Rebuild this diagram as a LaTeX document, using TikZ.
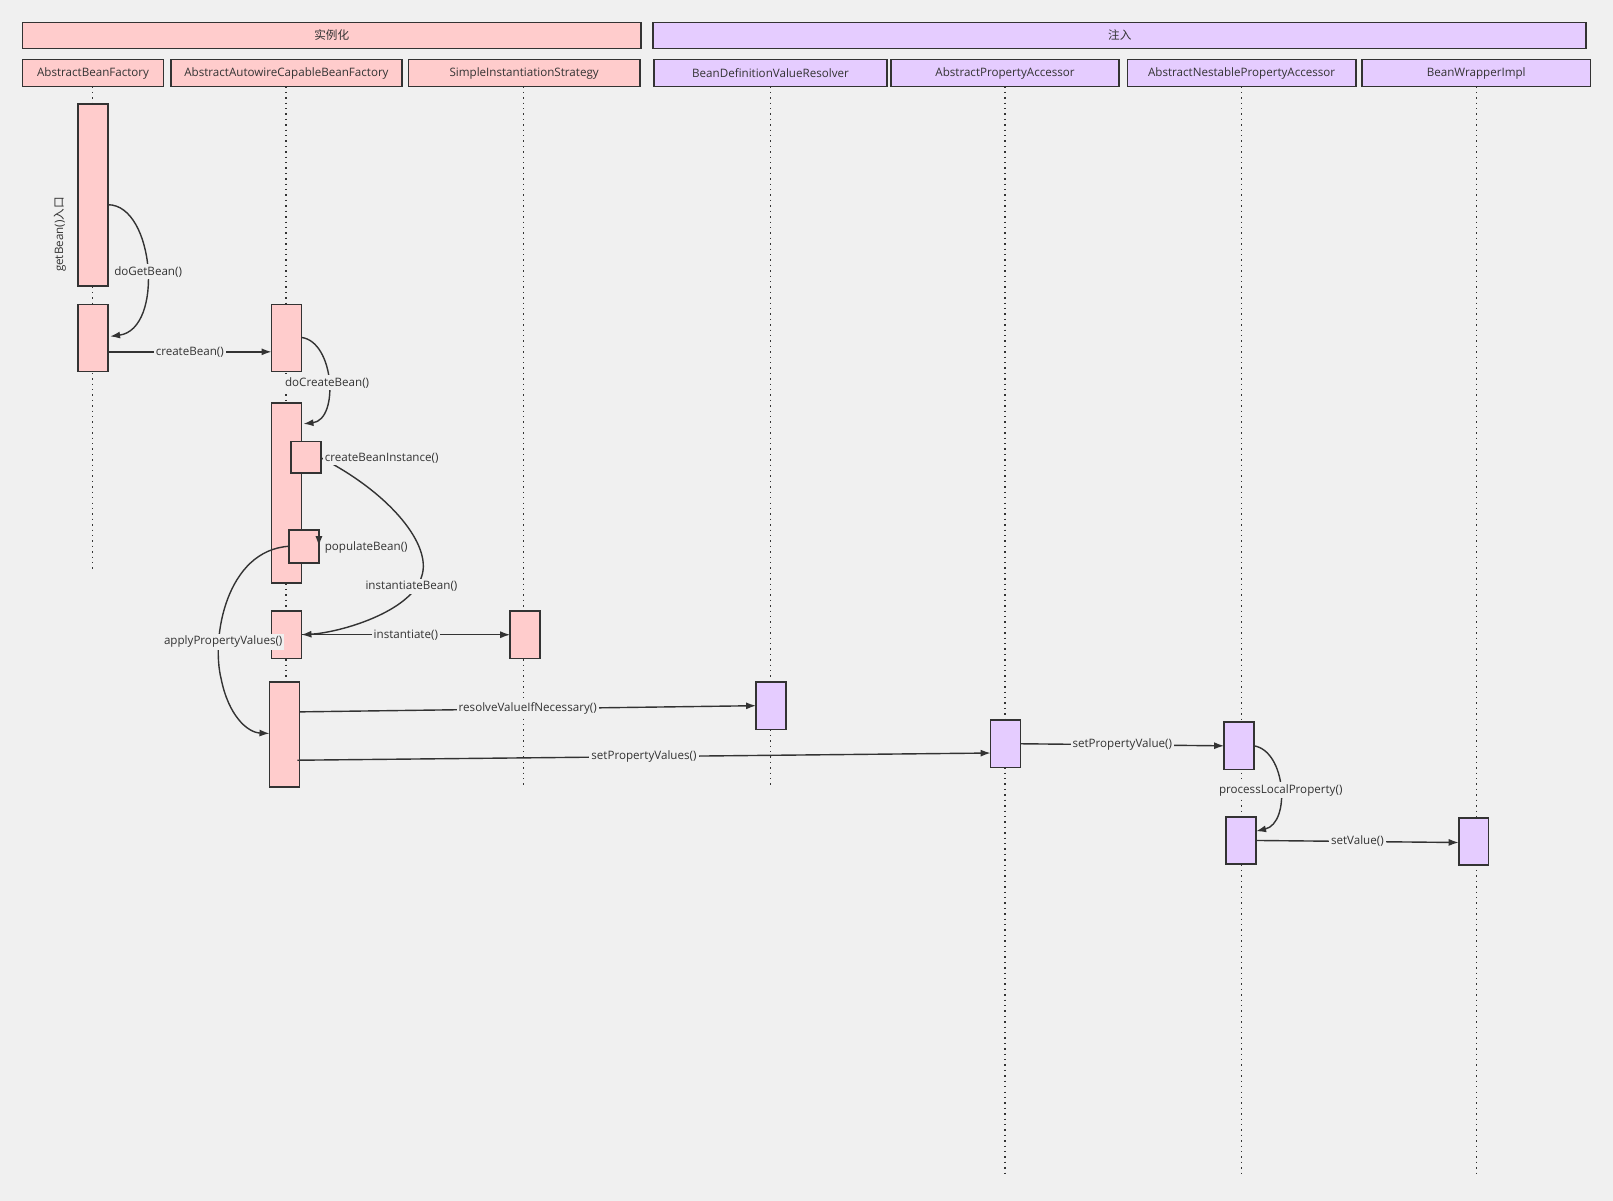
\documentclass[tikz,border=0pt]{standalone}
\usepackage{fontspec}
\setmainfont{Open Sans}
\newfontfamily\cjk{Noto Sans CJK SC}
\usetikzlibrary{arrows.meta}
\definecolor{pk}{HTML}{FFCCCC}
\definecolor{pu}{HTML}{E5CCFF}
\definecolor{bg}{HTML}{F0F0F0}
\definecolor{ln}{HTML}{333333}
\begin{document}
\begin{tikzpicture}[x=0.514pt,y=-0.514pt,
  txt/.style={font=\fontsize{5.8}{7}\selectfont,text=ln,inner sep=1pt},
  lbl/.style={txt,fill=bg},
  bx/.style={draw=ln,line width=0.8pt},
  life/.style={draw=ln,line width=0.7pt,dotted},
  msg/.style={draw=ln,line width=0.7pt,-{Latex[length=5pt,width=3.5pt]}}]
\useasboundingbox[fill=bg] (0,0) rectangle (1568,1167);
% headers
\draw[bx,fill=pk] (22,22) rectangle (623,47) node[txt,midway]{\cjk 实例化};
\draw[bx,fill=pu] (635,22) rectangle (1542,47) node[txt,midway]{\cjk 注入};
% lifelines
\draw[life] (90,84)--(90,555);
\draw[life] (278,84)--(278,765);
\draw[life] (509,84)--(509,765);
\draw[life] (749,84)--(749,765);
\draw[life] (977,84)--(977,1145);
\draw[life] (1207,84)--(1207,1145);
\draw[life] (1435,84)--(1435,1145);
\draw[bx,fill=pk] (22,58) rectangle (159,84) node[txt,midway](h1){AbstractBeanFactory};
\draw[bx,fill=pk] (166,58) rectangle (391,84) node[txt,midway](h2){AbstractAutowireCapableBeanFactory};
\draw[bx,fill=pk] (397,58) rectangle (622,84) node[txt,midway](h3){SimpleInstantiationStrategy};
\draw[bx,fill=pu] (636,58) rectangle (862,84) node[txt,midway](h4){BeanDefinitionValueResolver};
\draw[bx,fill=pu] (866,58) rectangle (1088,84) node[txt,midway](h5){AbstractPropertyAccessor};
\draw[bx,fill=pu] (1096,58) rectangle (1318,84) node[txt,midway](h6){AbstractNestablePropertyAccessor};
\draw[bx,fill=pu] (1324,58) rectangle (1546,84) node[txt,midway](h7){BeanWrapperImpl};
% activations
\draw[bx,fill=pk] (76,101) rectangle (105,278);
\draw[bx,fill=pk] (76,296) rectangle (105,361);
\draw[bx,fill=pk] (264,296) rectangle (293,361);
\draw[bx,fill=pk] (264,392) rectangle (293,567);
\draw[bx,fill=pk] (283,429) rectangle (312,460);
\draw[bx,fill=pk] (281,515) rectangle (310,547);
\draw[bx,fill=pk] (264,594) rectangle (293,640);
\draw[bx,fill=pk] (262,663) rectangle (291,765);
\draw[bx,fill=pk] (496,594) rectangle (525,640);
\draw[bx,fill=pu] (735,663) rectangle (764,709);
\draw[bx,fill=pu] (963,700) rectangle (992,746);
\draw[bx,fill=pu] (1190,702) rectangle (1219,748);
\draw[bx,fill=pu] (1192,794) rectangle (1221,840);
\draw[bx,fill=pu] (1418,795) rectangle (1447,841);
\node[txt,rotate=90] at (58,228) {getBean()\cjk 入口};
% messages
\coordinate (a1)  at (105,199); \coordinate (a2) at (107,327);
\draw[msg] (a1) .. controls (150,199) and (160,320) .. (a2);
\node[lbl] at (144,264) {doGetBean()};
\coordinate (c1) at (105,342); \coordinate (c2) at (264,342);
\draw[msg] (c1) -- node[lbl]{createBean()} (c2);
\coordinate (d1) at (293,328); \coordinate (d2) at (295,412);
\draw[msg] (d1) .. controls (325,332) and (330,408) .. (d2);
\node[lbl] at (318,372) {doCreateBean()};
\coordinate (e1) at (312,445); \coordinate (e2) at (293,617);
\draw[msg] (e1) .. controls (380,480) and (420,530) .. (410,560) .. controls (400,595) and (330,615) .. (e2);
\node[lbl] at (371,445) {createBeanInstance()};
\node[lbl] at (400,570) {instantiateBean()};
\draw[msg] (310,521) -- (310,531);
\node[lbl] at (356,532) {populateBean()};
\coordinate (f1) at (281,531); \coordinate (f2) at (262,713);
\draw[msg] (f1) .. controls (220,535) and (205,620) .. (215,660) .. controls (222,695) and (240,712) .. (f2);
\node[lbl] at (217,624) {applyPropertyValues()};
\coordinate (g1) at (293,617); \coordinate (g2) at (496,617);
\draw[msg] (g1) -- node[lbl]{instantiate()} (g2);
\coordinate (r1) at (291,692); \coordinate (r2) at (735,686);
\draw[msg] (r1) -- node[lbl]{resolveValueIfNecessary()} (r2);
\coordinate (s1) at (289,739); \coordinate (s2) at (963,732);
\draw[msg] (s1) -- node[lbl,pos=0.5]{setPropertyValues()} (s2);
\coordinate (t1) at (992,723); \coordinate (t2) at (1190,725);
\draw[msg] (t1) -- node[lbl]{setPropertyValue()} (t2);
\coordinate (u1) at (1219,725); \coordinate (u2) at (1221,808);
\draw[msg] (u1) .. controls (1250,730) and (1255,800) .. (u2);
\node[lbl] at (1245,768) {processLocalProperty()};
\coordinate (v1) at (1221,817); \coordinate (v2) at (1418,819);
\draw[msg] (v1) -- node[lbl]{setValue()} (v2);
\end{tikzpicture}
\end{document}
